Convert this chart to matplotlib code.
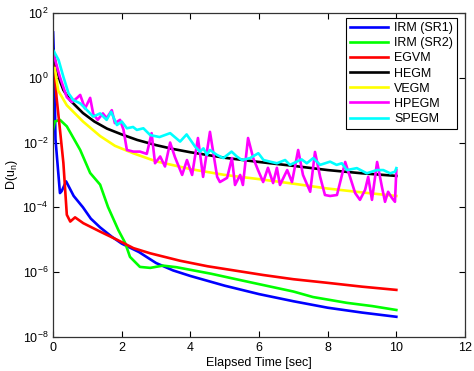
import numpy as np
import matplotlib
matplotlib.use('Agg')
import matplotlib.pyplot as plt

plt.rcParams['font.family'] = ['Liberation Sans', 'DejaVu Sans']

# values, y given as log10(D)
irm1_x = [0, 0.03, 0.07, 0.2, 0.25, 0.38, 0.6, 0.87, 1.1, 1.37, 1.7, 2.0, 2.5, 3.0, 3.5, 4.0, 5.0, 6.0, 7.0, 8.0, 9.0, 10.0]
irm1_y = [1.4, 0.5, -1.9, -3.56, -3.5, -3.2, -3.65, -4.0, -4.35, -4.62, -4.9, -5.12, -5.38, -5.72, -5.95, -6.12,
          -6.42, -6.68, -6.9, -7.1, -7.25, -7.38]

irm2_x = [0, 0.05, 0.2, 0.4, 0.79, 1.08, 1.37, 1.6, 1.9, 2.1, 2.24, 2.53, 2.83, 3.2, 3.6, 4.0, 4.6, 5.16, 6.12,
          7.0, 7.57, 8.56, 9.3, 10.0]
irm2_y = [-1.6, -1.35, -1.3, -1.5, -2.23, -2.94, -3.3, -3.99, -4.7, -5.1, -5.53, -5.84, -5.87, -5.8, -5.85, -5.93,
          -6.05, -6.18, -6.4, -6.6, -6.77, -6.95, -7.05, -7.17]

egvm_x = [0.03, 0.1, 0.2, 0.3, 0.4, 0.5, 0.64, 0.88, 1.37, 1.86, 2.34, 2.83, 3.7, 4.5, 5.16, 6.12, 7.0, 7.98, 9.0, 10.0]
egvm_y = [0.4, -0.6, -1.6, -2.63, -4.23, -4.44, -4.31, -4.49, -4.75, -5.0, -5.26, -5.42, -5.65, -5.82, -5.93,
          -6.09, -6.22, -6.33, -6.45, -6.55]

hegm_x = [0, 0.1, 0.2, 0.3, 0.5, 0.87, 1.2, 1.57, 2.0, 2.45, 3.0, 3.5, 4.0, 5.0, 6.0, 7.0, 8.0, 9.0, 10.0]
hegm_y = [0.86, 0.3, -0.1, -0.38, -0.7, -1.09, -1.35, -1.57, -1.75, -1.92, -2.08, -2.2, -2.3, -2.47, -2.6,
          -2.72, -2.85, -2.95, -3.03]

vegm_x = [0.05, 0.15, 0.4, 0.87, 1.37, 1.8, 2.33, 3.0, 3.5, 4.0, 5.0, 6.0, 7.0, 8.0, 9.0, 10.0]
vegm_y = [0.3, -0.4, -0.85, -1.35, -1.8, -2.1, -2.33, -2.58, -2.7, -2.82, -3.0, -3.13, -3.27, -3.42, -3.54, -3.65]

hpegm_x = [0, 0.2, 0.4, 0.55, 0.7, 0.79, 0.93, 1.08, 1.17, 1.3, 1.45, 1.56, 1.71, 1.8, 1.95, 2.05, 2.15, 2.34,
           2.53, 2.73, 2.87, 2.97, 3.12, 3.26, 3.41, 3.55, 3.76, 3.9, 4.05, 4.22, 4.37, 4.57, 4.78, 4.86, 5.07,
           5.21, 5.3, 5.45, 5.53, 5.68, 5.83, 5.97, 6.12, 6.26, 6.41, 6.52, 6.61, 6.82, 6.96, 7.14, 7.28, 7.49,
           7.63, 7.78, 7.92, 8.07, 8.27, 8.51, 8.65, 8.8, 8.94, 9.09, 9.18, 9.29, 9.44, 9.58, 9.67, 9.76, 9.87,
           9.96, 10.0]
hpegm_y = [0.77, 0.02, -0.6, -0.75, -0.62, -0.53, -0.95, -0.62, -1.12, -1.3, -1.1, -1.25, -1.0, -1.4, -1.3,
           -1.6, -2.23, -2.28, -2.28, -2.35, -1.71, -2.64, -2.43, -2.74, -2.0, -2.45, -3.0, -2.54, -3.0, -1.86,
           -3.06, -1.67, -3.06, -3.22, -3.09, -2.48, -3.31, -3.0, -3.31, -1.86, -2.48, -2.85, -3.22, -2.78, -3.25,
           -2.78, -3.31, -2.85, -3.22, -2.23, -3.0, -3.52, -2.29, -3.06, -3.62, -3.65, -3.62, -2.6, -3.06, -3.56,
           -3.77, -3.46, -3.06, -3.77, -2.6, -3.37, -3.83, -3.52, -3.71, -3.83, -2.85]

spegm_x = [0.0, 0.16, 0.3, 0.45, 0.59, 0.79, 0.98, 1.17, 1.37, 1.56, 1.69, 1.86, 2.0, 2.15, 2.33, 2.44, 2.63,
           2.83, 3.1, 3.41, 3.7, 3.89, 4.14, 4.28, 4.38, 4.48, 4.57, 4.77, 4.96, 5.2, 5.35, 5.5, 5.74, 5.98, 6.13,
           6.32, 6.52, 6.76, 6.9, 7.24, 7.39, 7.58, 7.78, 8.07, 8.26, 8.41, 8.56, 8.85, 9.14, 9.43, 9.62, 9.82,
           9.96, 10.0]
spegm_y = [0.86, 0.55, 0.03, -0.48, -0.69, -0.79, -0.99, -1.2, -1.1, -1.3, -1.05, -1.46, -1.35, -1.56, -1.52,
           -1.61, -1.56, -1.77, -1.83, -1.71, -1.97, -1.75, -2.13, -2.28, -2.18, -2.38, -2.23, -2.38, -2.48, -2.28,
           -2.43, -2.54, -2.48, -2.33, -2.54, -2.59, -2.64, -2.54, -2.69, -2.52, -2.64, -2.48, -2.69, -2.59,
           -2.69, -2.64, -2.85, -2.79, -2.95, -2.85, -2.85, -2.95, -2.9, -2.79]

SERIES = [
    (irm1_x, irm1_y, '#0000ff', 'IRM (SR1)'),
    (irm2_x, irm2_y, '#00ff00', 'IRM (SR2)'),
    (egvm_x, egvm_y, '#ff0000', 'EGVM'),
    (hegm_x, hegm_y, '#000000', 'HEGM'),
    (vegm_x, vegm_y, '#ffff00', 'VEGM'),
    (hpegm_x, hpegm_y, '#ff00ff', 'HPEGM'),
    (spegm_x, spegm_y, '#00ffff', 'SPEGM'),
]

fig = plt.figure(figsize=(4.74, 3.71), dpi=100)
ax = fig.add_axes([0.112, 0.092, 0.869, 0.873])

for x, y, color, label in SERIES:
    ax.semilogy(x, 10.0 ** np.array(y), color=color, lw=1.9, label=label)

ax.set_xlim(0, 12)
ax.set_ylim(1e-8, 1e2)
ax.set_xticks(np.arange(0, 13, 2))
ax.set_yticks([1e-8, 1e-6, 1e-4, 1e-2, 1e0, 1e2])
ax.minorticks_off()
ax.tick_params(direction='in', top=True, right=True, labelsize=9, length=4, width=0.8)
for s in ax.spines.values():
    s.set_color('#333333')
    s.set_linewidth(0.9)

ax.set_xlabel('Elapsed Time [sec]', fontsize=9, labelpad=2)
ax.set_ylabel(r'D(u$_{\mathregular{n}}$)', fontsize=9, labelpad=2)

leg = ax.legend(loc='upper right', fontsize=9, fancybox=False, framealpha=1, edgecolor='black',
                handlelength=3.0, labelspacing=0.25, borderpad=0.35, handletextpad=0.5,
                borderaxespad=0, bbox_to_anchor=(0.981, 0.985))
leg.get_frame().set_linewidth(0.8)

fig.savefig('out.png', dpi=100)
